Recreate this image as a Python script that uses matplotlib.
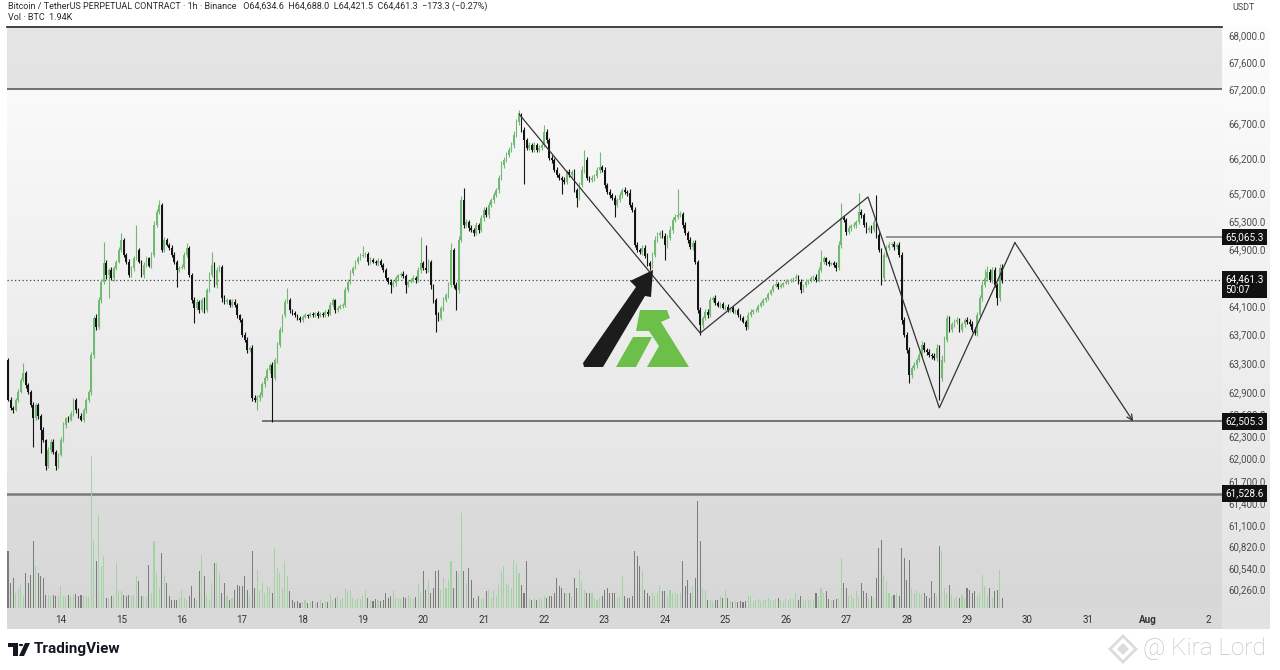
import numpy as np
import pandas as pd
import matplotlib
matplotlib.use("Agg")
import matplotlib.pyplot as plt
import matplotlib.transforms as mtransforms
from matplotlib.colors import LinearSegmentedColormap
from matplotlib.patches import Polygon, Rectangle, Circle
from matplotlib.ticker import FixedLocator, FuncFormatter, NullLocator, NullFormatter

plt.rcParams["font.family"] = ["Roboto", "DejaVu Sans"]

# BTCUSDT perpetual, 1h candles from 13 Jul 03:00 to 29 Jul 14:00
first_open = 63350
closes = [
    62800, 62690, 62660, 62800, 62910, 63070, 63170, 63000, 62910, 62730,
    62550, 62730, 62580, 62390, 62250, 61900, 62120, 62230, 62090, 61900,
    62050, 62250, 62460, 62550, 62530, 62610, 62800, 62660, 62580, 62530,
    62660, 62800, 62900, 63420, 63930, 63810, 64180, 64440, 64700, 64530,
    64600, 64490, 64630, 64720, 64890, 65030, 64820, 64720, 64530, 64630,
    64770, 64890, 64720, 64530, 64680, 64770, 64660, 64820, 65240, 65430,
    65530, 64890, 65030, 64960, 64920, 64820, 64720, 64600, 64630, 64650,
    64820, 64920, 64530, 64180, 64070, 64160, 64040, 64180, 64040, 64320,
    64530, 64680, 64390, 64600, 64650, 64210, 64160, 64180, 64110, 64160,
    64110, 63970, 63900, 63700, 63630, 63490, 63520, 62830, 62800, 62830,
    62870, 63010, 63100, 63210, 63280, 63100, 63350, 63560, 63770, 63970,
    64160, 64180, 64040, 64000, 63970, 63930, 63900, 63950, 63970, 63960,
    63990, 63970, 64000, 63960, 63990, 63970, 64020, 63990, 64110, 64180,
    64040, 64070, 64100, 64110, 64320, 64440, 64560, 64630, 64720, 64770,
    64800, 64820, 64830, 64720, 64750, 64720, 64700, 64730, 64680, 64600,
    64490, 64440, 64390, 64420, 64490, 64530, 64550, 64520, 64390, 64440,
    64460, 64490, 64460, 64600, 64700, 64630, 64600, 64720, 64390, 64180,
    63970, 63930, 64070, 64180, 64250, 64390, 64890, 64390, 64320, 65030,
    65600, 65240, 65280, 65200, 65170, 65130, 65240, 65170, 65340, 65460,
    65380, 65530, 65600, 65670, 65740, 65910, 66100, 66170, 66250, 66320,
    66390, 66540, 66720, 66830, 66610, 66460, 66350, 66390, 66320, 66390,
    66320, 66350, 66390, 66580, 66460, 66200, 66170, 66030, 65960, 65910,
    65890, 65860, 66000, 65960, 66000, 65740, 65630, 65810, 66030, 66170,
    65910, 65890, 65910, 65940, 66030, 66070, 66030, 65810, 65710, 65670,
    65630, 65530, 65600, 65670, 65740, 65710, 65700, 65530, 65460, 64960,
    64890, 64860, 64920, 64800, 64700, 64660, 64820, 65030, 65100, 65130,
    65090, 64960, 65060, 65170, 65310, 65360, 65380, 65400, 65240, 65130,
    65030, 64930, 64990, 64720, 64040, 63830, 63930, 64020, 63970, 64180,
    64210, 64140, 64100, 64130, 64070, 64090, 64040, 64070, 64020, 64040,
    63970, 63930, 63880, 63810, 63970, 64020, 64040, 64040, 64100, 64140,
    64180, 64210, 64270, 64320, 64380, 64410, 64370, 64390, 64420, 64440,
    64450, 64460, 64490, 64510, 64440, 64320, 64390, 64440, 64460, 64490,
    64510, 64460, 64600, 64720, 64770, 64720, 64690, 64700, 64680, 64630,
    64960, 65340, 65310, 65140, 65200, 65230, 65240, 65280, 65430, 65380,
    65240, 65170, 65200, 65170, 65280, 65100, 64890, 64490, 64820, 64920,
    64960, 64970, 64930, 64960, 64820, 63900, 63700, 63490, 63140, 63240,
    63280, 63350, 63420, 63560, 63490, 63460, 63420, 63400, 63380, 63520,
    63100, 63350, 63630, 63930, 63770, 63840, 63880, 63900, 63770, 63840,
    63900, 63880, 63850, 63770, 63720, 63970, 64210, 64390, 64490, 64580,
    64460, 64600, 64390, 64210, 64634.6, 64461.3,
]
# wick length above / below the body (USDT)
wick_hi = [
    30, 40, 20, 30, 40, 30, 130, 20, 30, 20, 40, 30, 20, 30, 40, 20, 30, 40, 30, 20,
    30, 40, 30, 20, 30, 40, 30, 20, 30, 40, 30, 20, 30, 40, 30, 50, 40, 30, 300, 40,
    30, 40, 30, 20, 40, 100, 30, 20, 40, 30, 30, 350, 30, 20, 40, 30, 20, 30, 60, 40,
    70, 30, 40, 20, 30, 40, 30, 20, 30, 40, 30, 60, 20, 30, 40, 30, 20, 30, 40, 30,
    40, 170, 30, 40, 20, 30, 40, 30, 20, 30, 40, 30, 20, 30, 40, 30, 20, 30, 40, 30,
    30, 40, 30, 20, 30, 40, 30, 40, 30, 20, 40, 170, 30, 20, 30, 20, 30, 20, 30, 20,
    20, 30, 20, 30, 20, 30, 20, 30, 40, 30, 20, 30, 20, 30, 40, 30, 40, 30, 20, 30,
    40, 120, 30, 20, 30, 20, 30, 40, 30, 20, 30, 20, 30, 40, 30, 20, 30, 40, 30, 20,
    30, 40, 30, 40, 370, 30, 330, 40, 30, 20, 30, 40, 30, 40, 30, 40, 100, 30, 40, 50,
    60, 170, 40, 30, 40, 30, 40, 30, 40, 30, 30, 40, 30, 40, 30, 40, 50, 40, 30, 40,
    40, 50, 40, 70, 30, 40, 30, 40, 30, 40, 30, 40, 30, 100, 40, 30, 40, 30, 40, 30,
    30, 40, 30, 40, 30, 40, 30, 40, 50, 150, 40, 30, 40, 30, 40, 210, 30, 40, 30, 40,
    30, 40, 30, 40, 30, 40, 30, 50, 40, 30, 40, 30, 40, 30, 40, 30, 40, 50, 40, 30,
    40, 30, 40, 50, 40, 30, 370, 40, 30, 40, 30, 40, 30, 40, 30, 40, 30, 40, 30, 50,
    30, 40, 30, 20, 30, 20, 30, 20, 30, 20, 30, 20, 30, 20, 40, 30, 20, 30, 20, 30,
    30, 20, 30, 20, 30, 40, 20, 30, 20, 30, 20, 30, 20, 30, 20, 30, 20, 30, 20, 30,
    20, 30, 40, 170, 30, 20, 30, 20, 30, 40, 50, 220, 40, 30, 40, 30, 40, 30, 270, 40,
    30, 40, 30, 40, 50, 390, 40, 30, 40, 30, 40, 30, 40, 30, 40, 30, 40, 30, 40, 30,
    40, 30, 40, 50, 40, 30, 40, 30, 40, 50, 40, 60, 50, 40, 30, 40, 30, 40, 30, 40,
    30, 40, 30, 40, 30, 50, 40, 60, 120, 80, 40, 50, 40, 30, 50, 53.4,
]
wick_lo = [
    20, 30, 40, 20, 30, 20, 30, 40, 30, 30, 400, 30, 40, 310, 30, 50, 30, 40, 30, 60,
    30, 20, 30, 40, 30, 20, 30, 40, 30, 20, 30, 40, 30, 30, 40, 50, 30, 40, 30, 50,
    320, 30, 40, 30, 20, 30, 40, 30, 20, 30, 40, 30, 20, 30, 40, 30, 20, 30, 40, 30,
    30, 40, 30, 20, 30, 40, 30, 230, 30, 20, 30, 40, 30, 40, 210, 30, 40, 30, 40, 30,
    30, 20, 30, 40, 30, 50, 30, 40, 30, 20, 30, 40, 30, 40, 30, 40, 30, 40, 30, 140,
    40, 30, 40, 30, 40, 600, 30, 40, 30, 40, 30, 20, 40, 30, 20, 30, 20, 30, 20, 30,
    20, 30, 20, 30, 20, 30, 20, 30, 20, 30, 40, 30, 20, 30, 20, 30, 40, 30, 20, 30,
    30, 20, 30, 40, 30, 20, 30, 40, 30, 20, 30, 40, 110, 30, 40, 30, 20, 30, 110, 30,
    20, 30, 40, 30, 40, 30, 40, 30, 50, 40, 230, 40, 30, 40, 30, 40, 30, 40, 280, 40,
    30, 40, 30, 40, 30, 40, 30, 40, 30, 40, 30, 40, 30, 40, 30, 40, 30, 40, 30, 40,
    30, 40, 30, 40, 30, 630, 40, 30, 40, 30, 40, 30, 40, 30, 40, 30, 40, 30, 40, 30,
    210, 30, 40, 30, 40, 30, 130, 40, 30, 40, 30, 40, 30, 40, 30, 40, 30, 40, 30, 40,
    30, 170, 40, 30, 40, 30, 40, 30, 40, 30, 40, 30, 40, 30, 40, 60, 30, 40, 30, 40,
    30, 210, 40, 30, 40, 30, 40, 30, 40, 30, 40, 30, 40, 30, 40, 130, 40, 30, 40, 30,
    20, 30, 20, 30, 20, 30, 20, 30, 20, 30, 20, 30, 20, 50, 30, 20, 30, 20, 30, 20,
    30, 20, 30, 20, 30, 20, 30, 20, 30, 20, 30, 20, 30, 20, 30, 40, 30, 20, 30, 20,
    30, 20, 30, 20, 30, 40, 30, 20, 30, 40, 30, 40, 30, 40, 30, 40, 30, 40, 30, 40,
    30, 40, 30, 40, 30, 40, 30, 100, 40, 30, 40, 30, 40, 30, 40, 50, 40, 50, 110, 40,
    30, 40, 30, 40, 30, 40, 30, 40, 30, 40, 300, 40, 30, 40, 30, 40, 30, 40, 30, 40,
    30, 40, 30, 40, 30, 40, 30, 40, 30, 40, 30, 40, 30, 100, 40, 39.8,
]
# volume, thousands of BTC
volume_k = [
    11.4, 5.0, 6.0, 3.0, 4.0, 4.6, 2.4, 7.0, 5.0, 6.6, 13.4, 8.4, 7.0, 6.4, 6.0, 2.6, 2.6, 2.4, 2.6, 2.4,
    2.6, 4.4, 2.4, 2.4, 2.6, 2.4, 2.6, 2.8, 2.4, 2.6, 2.4, 2.2, 2.2, 30.4, 13.6, 9.4, 18.6, 8.4, 10.4, 2.0,
    2.0, 2.4, 2.4, 9.0, 3.4, 3.4, 2.6, 2.4, 2.6, 2.4, 2.6, 6.4, 5.4, 2.4, 2.4, 2.4, 8.6, 3.0, 13.4, 7.0,
    4.0, 11.0, 6.6, 5.0, 2.4, 1.6, 1.6, 1.6, 2.0, 3.6, 2.0, 1.6, 2.4, 4.4, 2.0, 1.6, 7.4, 10.6, 6.4, 2.4,
    1.6, 5.0, 9.0, 9.0, 7.0, 3.0, 5.0, 2.4, 1.6, 2.0, 3.6, 4.6, 4.4, 4.4, 6.4, 3.6, 2.4, 11.4, 4.0, 7.6,
    3.6, 5.0, 3.0, 4.4, 4.0, 3.0, 12.0, 8.0, 7.0, 4.0, 9.4, 6.4, 3.4, 1.6, 1.2, 1.4, 1.0, 1.2, 1.6, 1.0,
    1.2, 1.4, 1.0, 1.2, 1.6, 1.0, 1.4, 1.2, 2.6, 1.6, 2.0, 2.4, 1.6, 2.0, 4.0, 3.4, 3.4, 2.0, 1.6, 2.0,
    1.8, 2.4, 3.6, 2.0, 1.6, 1.4, 1.8, 1.6, 1.4, 1.6, 3.0, 2.0, 2.4, 3.6, 2.0, 2.0, 1.8, 2.2, 2.0, 2.6,
    2.0, 1.8, 2.2, 5.0, 3.0, 7.4, 3.6, 5.6, 3.0, 4.0, 7.4, 7.6, 3.6, 6.0, 4.0, 5.6, 9.4, 4.0, 7.4, 7.0,
    19.0, 7.4, 5.0, 8.0, 5.6, 2.0, 1.6, 2.4, 1.8, 2.0, 3.4, 3.6, 2.0, 3.6, 2.4, 4.6, 7.4, 8.4, 5.0, 4.6,
    4.0, 9.6, 9.0, 7.0, 4.6, 3.0, 9.4, 2.0, 1.6, 1.8, 1.6, 2.0, 1.6, 2.4, 2.0, 2.4, 2.4, 3.0, 6.0, 4.4,
    4.0, 3.0, 3.0, 3.0, 2.4, 6.0, 4.0, 7.6, 5.4, 3.6, 3.0, 3.0, 3.0, 2.0, 1.6, 2.0, 2.4, 3.6, 4.0, 3.0,
    3.0, 3.0, 2.0, 2.4, 6.4, 2.4, 2.0, 2.0, 2.4, 11.4, 10.4, 8.4, 7.4, 3.6, 3.0, 2.4, 3.0, 2.4, 3.0, 4.6,
    3.4, 3.4, 2.4, 3.6, 3.0, 3.0, 2.8, 3.0, 9.4, 4.4, 5.6, 3.0, 4.4, 6.0, 21.4, 13.4, 4.0, 3.6, 1.6, 1.6,
    1.4, 1.6, 1.6, 2.4, 2.0, 3.6, 2.0, 1.4, 1.2, 1.4, 1.2, 1.4, 1.2, 1.4, 2.6, 2.4, 1.4, 1.6, 1.8, 1.4,
    1.6, 1.8, 2.0, 1.6, 1.4, 1.8, 2.0, 1.6, 1.4, 1.8, 1.6, 2.0, 1.8, 3.0, 1.6, 2.4, 1.4, 1.6, 1.6, 1.4,
    1.6, 3.0, 2.4, 4.0, 3.0, 3.4, 1.8, 1.6, 1.6, 1.8, 2.0, 10.0, 5.0, 4.0, 2.4, 2.6, 2.0, 3.4, 2.4, 5.0,
    3.4, 3.0, 2.0, 2.4, 2.0, 6.0, 12.0, 13.6, 6.6, 5.4, 3.0, 2.4, 2.6, 3.0, 2.4, 12.0, 10.0, 5.6, 9.6, 4.0,
    3.0, 3.6, 3.0, 2.6, 3.0, 2.4, 2.0, 5.4, 3.0, 2.4, 12.4, 11.4, 4.0, 3.0, 4.6, 2.6, 2.0, 2.4, 2.0, 2.6,
    2.0, 4.0, 3.6, 3.0, 3.4, 2.4, 3.0, 6.6, 4.4, 2.4, 4.0, 2.0, 3.4, 3.6, 7.6, 1.94,
]

price_ticks = [68000, 67600, 67200, 66700, 66200, 65700, 65300, 64900, 64500, 64100,
               63700, 63300, 62900, 62600, 62300, 62000, 61700, 61400, 61100, 60820,
               60540, 60260]
day_ticks = pd.date_range("2024-07-14", "2024-08-02", freq="D")
day_labels = ["Aug" if d.day == 1 else str(d.day) for d in day_ticks]

box_level = 67200
resistance = 65065.3
resistance_from = "2024-07-27 16:00"
support = 62505.3
support_from = "2024-07-17 08:00"
volume_line = 61528.6
countdown = "50:07"

zz_times = ["2024-07-21 14:00", "2024-07-24 14:00", "2024-07-27 08:40",
            "2024-07-28 13:00", "2024-07-29 19:00", "2024-07-31 18:00"]
zz_prices = [66840, 63720, 65640, 62690, 64990, 62505.3]

# ---------------------------------------------------------------
times = pd.date_range("2024-07-13 03:00", periods=len(closes), freq="h")
c = np.array(closes, dtype=float)
o = np.r_[first_open, c[:-1]]
hi = np.maximum(o, c) + np.array(wick_hi)
lo = np.minimum(o, c) - np.array(wick_lo)
up = c >= o
candle_col = np.where(up, "#72b972", "#141414")
vol_col = np.where(up, "#a3d3a3", "#7c7c7c")

W, H = 1280, 670
fig = plt.figure(figsize=(12.8, 6.7), dpi=100)
fig.patch.set_facecolor("white")


def fx(x):
    return x / W


def fy(y):
    return 1 - y / H


rect = [fx(7), fy(608), fx(1222) - fx(7), fy(27) - fy(608)]

grad = np.linspace(0, 1, 256)[:, None]
bg = fig.add_axes(rect, zorder=-2)
bg.imshow(grad, aspect="auto", extent=[0, 1, 0, 1],
          cmap=LinearSegmentedColormap.from_list("bg", ["#fdfdfd", "#dfdfdf"]))
bg.set_axis_off()

col = fig.add_axes([fx(1222), fy(629), fx(1270) - fx(1222), fy(27) - fy(629)], zorder=-2)
col.imshow(grad, aspect="auto", extent=[0, 1, 0, 1],
           cmap=LinearSegmentedColormap.from_list("col", ["#fdfdfd", "#e2e2e2"]))
col.set_axis_off()

fig.add_artist(Rectangle((fx(7), fy(629)), fx(1222) - fx(7), fy(608) - fy(629),
                         transform=fig.transFigure, fc="#d9d9d9", ec="none", zorder=-1))

ax = fig.add_axes(rect, zorder=0)
ax.patch.set_visible(False)
ax_v = ax.twinx()

ax.set_yscale("log")
ax.set_xlim(pd.Timestamp("2024-07-13 02:36"), pd.Timestamp("2024-08-02 05:18"))
ax.set_ylim(60012, 68119)

# shaded zones and levels
ax.axhspan(box_level, 70000, color="black", alpha=0.09, lw=0)
ax.axhspan(59000, volume_line, color="black", alpha=0.035, lw=0)
ax.axhline(box_level, color="#5c5c5c", lw=1.2)
ax.axhline(volume_line, color="#7a7a7a", lw=1.8)
x_end = pd.Timestamp("2024-08-05")
ax.hlines(resistance, pd.Timestamp(resistance_from), x_end, color="#7a7a7a", lw=1.1)
ax.hlines(support, pd.Timestamp(support_from), x_end, color="#555555", lw=1.1)
ax.axhline(c[-1], color="#444444", lw=0.9, ls=(0, (1, 2)))

# candles
ax.vlines(times, lo, hi, colors=candle_col, lw=0.8, zorder=3)
ax.bar(times, np.abs(c - o), bottom=np.minimum(o, c), width=0.66 / 24,
       color=candle_col, linewidth=0, zorder=3)

# zigzag projection
zt = pd.to_datetime(zz_times)
ax.plot(zt[:-1], zz_prices[:-1], color="#333333", lw=0.9, zorder=4)
ax.annotate("", xy=(zt[-1], zz_prices[-1]), xytext=(zt[-2], zz_prices[-2]),
            arrowprops=dict(arrowstyle="->", color="#333333", lw=0.9,
                            shrinkA=0, shrinkB=0), zorder=4)

# volume
ax_v.bar(times, volume_k, width=0.42 / 24, color=vol_col, linewidth=0)
ax_v.set_ylim(0, 116.2)
ax_v.set_axis_off()

# axes styling
for sp in ax.spines.values():
    sp.set_visible(False)
ax.spines["top"].set_visible(True)
ax.spines["top"].set_color("#333333")
ax.spines["top"].set_linewidth(1.3)

ax.yaxis.tick_right()
ax.yaxis.set_major_locator(FixedLocator(price_ticks))
ax.yaxis.set_minor_locator(NullLocator())
ax.yaxis.set_minor_formatter(NullFormatter())
ax.yaxis.set_major_formatter(FuncFormatter(lambda v, p: f"{v:,.1f}"))
ax.tick_params(axis="y", length=0, pad=4.5, labelsize=7, labelcolor="#4a4a4a")
ax.set_xticks(day_ticks)
ax.set_xticklabels(day_labels)
ax.tick_params(axis="x", length=0, pad=5, labelsize=7, labelcolor="#333333")
for t in ax.get_xticklabels():
    if t.get_text() == "Aug":
        t.set_fontweight("bold")

# price tags on the scale (they sit over the scale labels, as on the original)
tag = mtransforms.blended_transform_factory(ax.transAxes, ax.transData)
box = dict(boxstyle="square,pad=0.32", fc="#111111", ec="none")
for level in [resistance, support, volume_line]:
    ax.text(1.0025, level, f"{level:,.1f}", transform=tag, ha="left", va="center",
            fontsize=7.2, color="white", clip_on=False, zorder=10, bbox=box)
ax.text(1.0025, c[-1], f"{c[-1]:,.1f}\n{countdown}",
        transform=mtransforms.offset_copy(tag, fig=fig, y=6, units="dots"),
        ha="left", va="top", fontsize=7.2, color="white", linespacing=1.15,
        clip_on=False, zorder=10, bbox=box)

# header
chg = c[-1] - c[-2]
pct = chg / c[-2] * 100
fig.text(fx(8), fy(6),
         "Bitcoin / TetherUS PERPETUAL CONTRACT · 1h · Binance   "
         f"O{o[-1]:,.1f}  H{hi[-1]:,.1f}  L{lo[-1]:,.1f}  C{c[-1]:,.1f}  "
         f"{chg:+.1f} ({pct:+.2f}%)".replace("-", "\u2212"),
         fontsize=6.5, color="#2a2a2a", va="center", ha="left")
fig.text(fx(8), fy(18), f"Vol · BTC  {volume_k[-1]:.2f}K", fontsize=6.5,
         color="#2a2a2a", va="center", ha="left")
fig.text(fx(1232), fy(7), "USDT", fontsize=6.5, color="#444444", va="center", ha="left")


def poly(pts, color, z=6):
    fig.add_artist(Polygon([(fx(x), fy(y)) for x, y in pts], closed=True,
                           transform=fig.transFigure, fc=color, ec="none", zorder=z))


# watermark logo in the middle of the chart
poly([(584, 367), (603, 367), (645, 296), (651, 297), (653, 270), (630, 281),
      (636, 287), (583, 363)], "#1c1c1c")
poly([(616, 367), (636, 367), (652, 337), (633, 337)], "#6cc04a")
poly([(640, 310), (667, 310), (670, 318), (661, 322), (689, 367), (647, 367),
      (659, 346), (649, 331), (636, 331)], "#6cc04a")

# TradingView footer
poly([(8, 643), (18, 643), (18, 656), (13, 656), (13, 647), (8, 647)], "#131722")
fig.add_artist(Circle((fx(21), fy(645)), 2.2 / W, transform=fig.transFigure,
                      fc="#131722", ec="none", zorder=6))
poly([(19, 656), (24, 656), (30, 643), (25, 643)], "#131722")
fig.text(fx(34), fy(649), "TradingView", fontsize=11, fontweight="bold",
         color="#131722", va="center", ha="left")

# author watermark
poly([(1123, 634), (1138, 649), (1123, 664), (1108, 649)], "#dcdcdc")
poly([(1123, 638), (1134, 649), (1123, 660), (1112, 649)], "white")
poly([(1123, 643), (1129, 649), (1123, 655), (1117, 649)], "#dcdcdc")
fig.text(fx(1143), fy(648), "@ Kira Lord", fontsize=17.5, color="#c4c4c4",
         fontweight="light", va="center", ha="left")

fig.savefig("out.png", dpi=100)
